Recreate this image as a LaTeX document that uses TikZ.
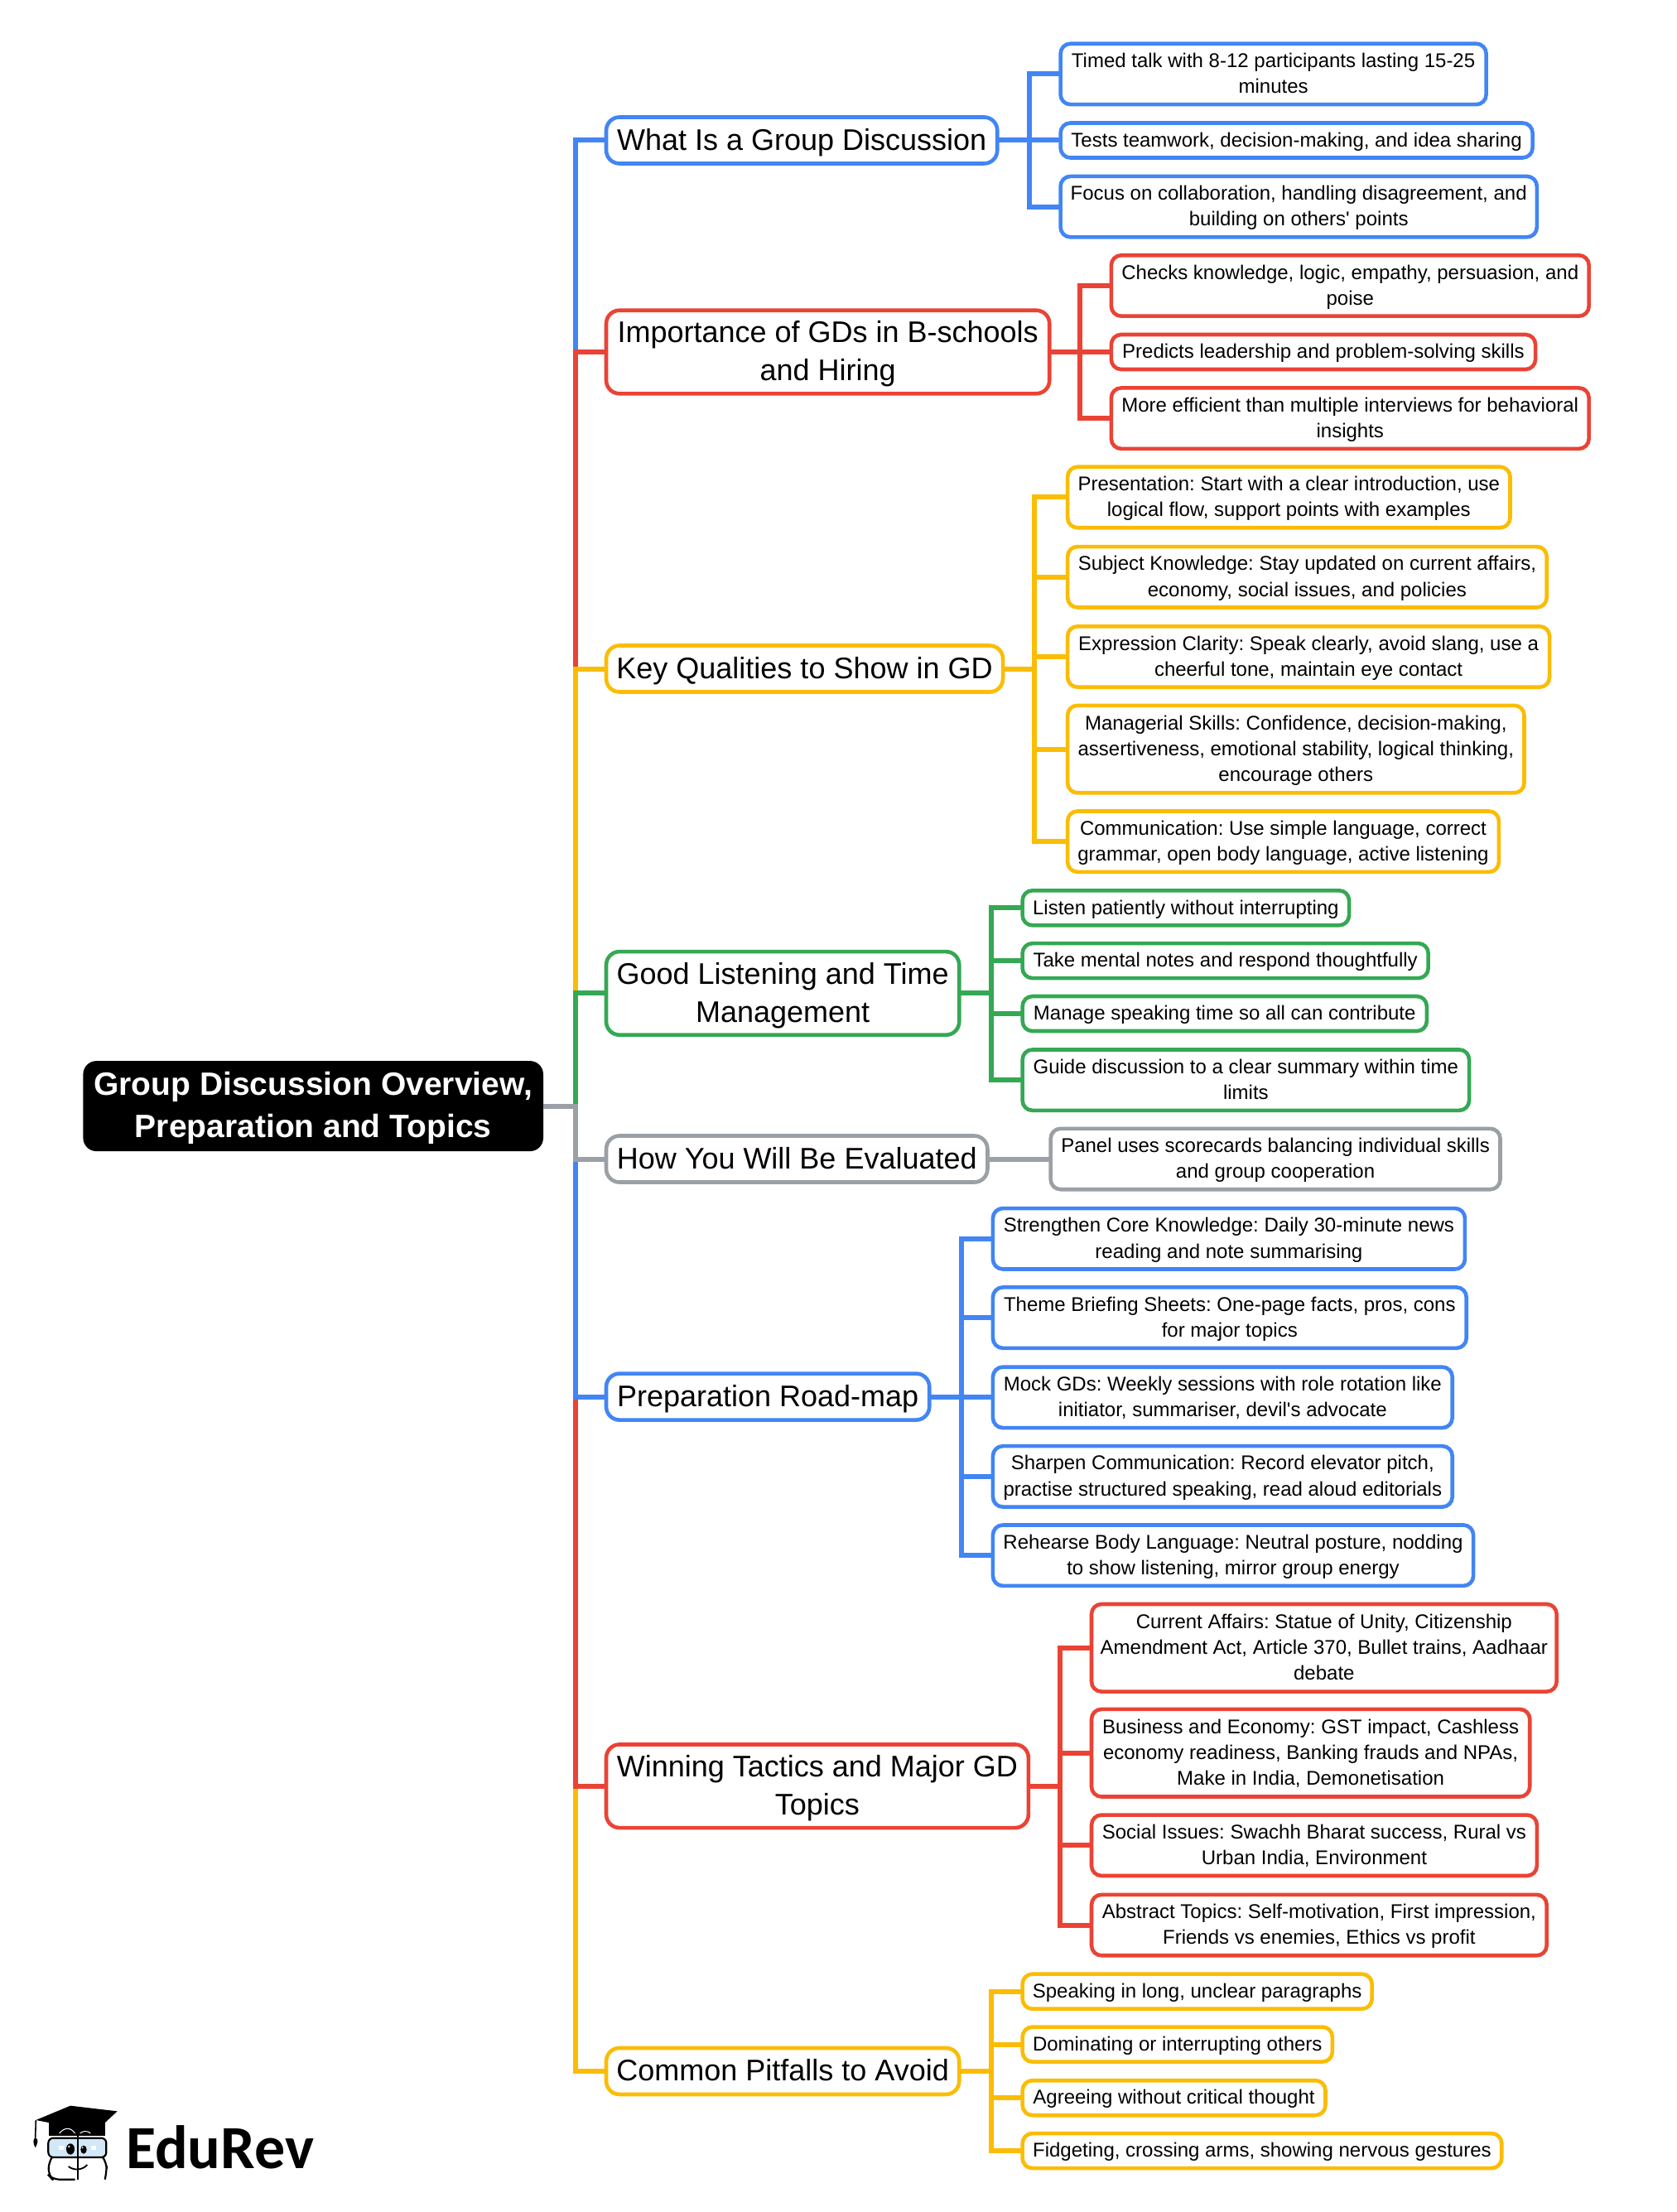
\documentclass[tikz,border=0pt]{standalone}
\usepackage{fontspec}
\setmainfont{Liberation Sans}[Ligatures=TeXOff]
\newfontfamily\logofont{Carlito}
\usetikzlibrary{calc,positioning}
\frenchspacing

\definecolor{gdblue}{HTML}{4285F4}
\definecolor{gdred}{HTML}{EA4335}
\definecolor{gdyellow}{HTML}{FBBC04}
\definecolor{gdgreen}{HTML}{34A853}
\definecolor{gdgray}{HTML}{9AA0A6}
\definecolor{gdglass}{HTML}{D3E8F6}

\tikzset{
  rootbox/.style={fill=black,text=white,rounded corners=8pt,inner sep=0,outer sep=0,align=flush center,
    font=\fontsize{19.5}{25.6}\selectfont\bfseries,minimum height=54.5pt,anchor=west,
    execute at begin node={\rule{0pt}{17.7pt}},execute at end node={\rule[-5pt]{0pt}{5pt}}},
  mainbox/.style={draw=#1,fill=white,line width=2.3pt,rounded corners=8pt,inner sep=0,outer sep=0,
    align=flush center,anchor=west,font=\fontsize{18}{23}\selectfont,
    execute at begin node={\rule{0pt}{16.3pt}},execute at end node={\rule[-4.5pt]{0pt}{4.5pt}}},
  subbox/.style={draw=#1,fill=white,line width=2.3pt,rounded corners=6pt,inner sep=0,outer sep=0,
    align=flush center,anchor=west,font=\fontsize{12}{15.6}\selectfont,
    execute at begin node={\rule{0pt}{10.7pt}},execute at end node={\rule[-3pt]{0pt}{3pt}}},
  mainone/.style={minimum height=28pt},
  maintwo/.style={minimum height=50.3pt},
  oneline/.style={minimum height=21pt},
  twoline/.style={minimum height=36.7pt},
  threeline/.style={minimum height=52.8pt},
  link/.style={draw=#1,line width=3pt}
}

\begin{document}
\begin{tikzpicture}[x=0.5005pt,y=-0.50083pt]
  \useasboundingbox (0,0) rectangle (2022,2666.6);

  \node[rootbox,text width=277.8pt] at (100.3,1333.4) (root)
  {Group Discussion Overview,\\Preparation and Topics};

  % main topics
  \node[mainbox=gdblue,mainone,text width=236.1pt] at (731.3,169.2) (whatis)
  {What Is a Group Discussion};
  \node[mainbox=gdred,maintwo,text width=267.6pt] at (731.3,424.3) (importance)
  {Importance of GDs in B-schools\\and Hiring};
  \node[mainbox=gdyellow,mainone,text width=239.5pt] at (731.3,806.2) (qualities)
  {Key Qualities to Show in GD};
  \node[mainbox=gdgreen,maintwo,text width=213.1pt] at (731.3,1197.4) (listening)
  {Good Listening and Time\\Management};
  \node[mainbox=gdgray,mainone,text width=230.2pt] at (731.3,1397.2) (evaluated)
  {How You Will Be Evaluated};
  \node[mainbox=gdblue,mainone,text width=195.1pt] at (731.3,1683.8) (roadmap)
  {Preparation Road-map};
  \node[mainbox=gdred,maintwo,text width=254.9pt] at (731.3,2153.2) (tactics)
  {Winning Tactics and Major GD\\Topics};
  \node[mainbox=gdyellow,mainone,text width=213.1pt] at (731.3,2496.8) (pitfalls)
  {Common Pitfalls to Avoid};

  % What Is a Group Discussion
  \node[subbox=gdblue,twoline,text width=257pt] at (1279.3,89.3) (timed)
  {Timed talk with 8-12 participants lasting 15-25\\minutes};
  \node[subbox=gdblue,oneline,text width=285pt] at (1279.3,169.2) (tests)
  {Tests teamwork, decision-making, and idea sharing};
  \node[subbox=gdblue,twoline,text width=287.6pt] at (1279.3,249.2) (focus)
  {Focus on collaboration, handling disagreement, and\\building on others' points};

  % Importance of GDs
  \node[subbox=gdred,twoline,text width=288.4pt] at (1340.5,344.4) (checks)
  {Checks knowledge, logic, empathy, persuasion, and\\poise};
  \node[subbox=gdred,oneline,text width=256.1pt] at (1340.5,424.3) (predicts)
  {Predicts leadership and problem-solving skills};
  \node[subbox=gdred,twoline,text width=288.4pt] at (1340.5,504.3) (efficient)
  {More efficient than multiple interviews for behavioral\\insights};

  % Key Qualities
  \node[subbox=gdyellow,twoline,text width=267.2pt] at (1287.8,599.5) (presentation)
  {Presentation: Start with a clear introduction, use\\logical flow, support points with examples};
  \node[subbox=gdyellow,twoline,text width=289.3pt] at (1287.8,695.6) (subject)
  {Subject Knowledge: Stay updated on current affairs,\\economy, social issues, and policies};
  \node[subbox=gdyellow,twoline,text width=291pt] at (1287.8,791.7) (clarity)
  {Expression Clarity: Speak clearly, avoid slang, use a\\cheerful tone, maintain eye contact};
  \node[subbox=gdyellow,threeline,text width=275.7pt] at (1287.8,903.1) (managerial)
  {Managerial Skills: Confidence, decision-making,\\assertiveness, emotional stability, logical thinking,\\encourage others};
  \node[subbox=gdyellow,twoline,text width=260.4pt] at (1287.8,1014.5) (communication)
  {Communication: Use simple language, correct\\grammar, open body language, active listening};

  % Good Listening
  \node[subbox=gdgreen,oneline,text width=197.2pt] at (1233.4,1094.5) (patient)
  {Listen patiently without interrupting};
  \node[subbox=gdgreen,oneline,text width=245pt] at (1233.4,1158.2) (notes)
  {Take mental notes and respond thoughtfully};
  \node[subbox=gdgreen,oneline,text width=244.1pt] at (1233.4,1222) (speaking)
  {Manage speaking time so all can contribute};
  \node[subbox=gdgreen,twoline,text width=269.7pt] at (1233.4,1302) (guide)
  {Guide discussion to a clear summary within time\\limits};

  % Evaluated
  \node[subbox=gdgray,twoline,text width=271.4pt] at (1267.4,1397.2) (panel)
  {Panel uses scorecards balancing individual skills\\and group cooperation};

  % Road-map
  \node[subbox=gdblue,twoline,text width=285pt] at (1197.7,1493.3) (core)
  {Strengthen Core Knowledge: Daily 30-minute news\\reading and note summarising};
  \node[subbox=gdblue,twoline,text width=285.9pt] at (1197.7,1588.5) (theme)
  {Theme Briefing Sheets: One-page facts, pros, cons\\for major topics};
  \node[subbox=gdblue,twoline,text width=277.4pt] at (1197.7,1684.6) (mock)
  {Mock GDs: Weekly sessions with role rotation like\\initiator, summariser, devil's advocate};
  \node[subbox=gdblue,twoline,text width=277.4pt] at (1197.7,1779.9) (sharpen)
  {Sharpen Communication: Record elevator pitch,\\practise structured speaking, read aloud editorials};
  \node[subbox=gdblue,twoline,text width=290.1pt] at (1197.7,1875.1) (rehearse)
  {Rehearse Body Language: Neutral posture, nodding\\to show listening, mirror group energy};

  % Winning Tactics
  \node[subbox=gdred,threeline,text width=280.8pt] at (1316.7,1986.5) (affairs)
  {Current Affairs: Statue of Unity, Citizenship\\Amendment Act, Article 370, Bullet trains, Aadhaar\\debate};
  \node[subbox=gdred,threeline,text width=264.6pt] at (1316.7,2113.2) (business)
  {Business and Economy: GST impact, Cashless\\economy readiness, Banking frauds and NPAs,\\Make in India, Demonetisation};
  \node[subbox=gdred,twoline,text width=268.9pt] at (1316.7,2224.6) (social)
  {Social Issues: Swachh Bharat success, Rural vs\\Urban India, Environment};
  \node[subbox=gdred,twoline,text width=274.8pt] at (1316.7,2320.7) (abstract)
  {Abstract Topics: Self-motivation, First impression,\\Friends vs enemies, Ethics vs profit};

  % Pitfalls
  \node[subbox=gdyellow,oneline,text width=211pt] at (1233.4,2400.7) (long)
  {Speaking in long, unclear paragraphs};
  \node[subbox=gdyellow,oneline,text width=187.1pt] at (1233.4,2464.5) (dominating)
  {Dominating or interrupting others};
  \node[subbox=gdyellow,oneline,text width=182.9pt] at (1233.4,2529) (agreeing)
  {Agreeing without critical thought};
  \node[subbox=gdyellow,oneline,text width=289.3pt] at (1233.4,2592.8) (fidgeting)
  {Fidgeting, crossing arms, showing nervous gestures};

  % trunk, outer branches first so the inner ones lie on top
  \coordinate (trunk) at (693.9,1333.4);
  \foreach \topic/\col in {whatis/gdblue,importance/gdred,qualities/gdyellow,listening/gdgreen,
    pitfalls/gdyellow,tactics/gdred,roadmap/gdblue,evaluated/gdgray}
  \draw[link=\col] (root.east) -- (trunk) |- (\topic.west);

  \coordinate (whatfork) at (1241.4,169.2);
  \coordinate (importfork) at (1302.6,424.3);
  \coordinate (qualfork) at (1248.2,806.2);
  \coordinate (listenfork) at (1195.5,1197.4);
  \coordinate (roadfork) at (1159.7,1683.8);
  \coordinate (tacticfork) at (1278.8,2153.2);
  \coordinate (pitfork) at (1195.5,2496.8);

  \foreach \leaf in {timed,tests,focus}
  \draw[link=gdblue] (whatis.east) -- (whatfork) |- (\leaf.west);
  \foreach \leaf in {checks,predicts,efficient}
  \draw[link=gdred] (importance.east) -- (importfork) |- (\leaf.west);
  \foreach \leaf in {presentation,subject,clarity,managerial,communication}
  \draw[link=gdyellow] (qualities.east) -- (qualfork) |- (\leaf.west);
  \foreach \leaf in {patient,notes,speaking,guide}
  \draw[link=gdgreen] (listening.east) -- (listenfork) |- (\leaf.west);
  \draw[link=gdgray] (evaluated.east) -- (panel.west);
  \foreach \leaf in {core,theme,mock,sharpen,rehearse}
  \draw[link=gdblue] (roadmap.east) -- (roadfork) |- (\leaf.west);
  \foreach \leaf in {affairs,business,social,abstract}
  \draw[link=gdred] (tactics.east) -- (tacticfork) |- (\leaf.west);
  \foreach \leaf in {long,dominating,agreeing,fidgeting}
  \draw[link=gdyellow] (pitfalls.east) -- (pitfork) |- (\leaf.west);

  % logo
  \begin{scope}[shift={(0,2475.9)},x=0.16667pt,y=-0.16667pt]
    \fill[black] (178,250) -- (380,250) -- (380,298) -- (178,298) -- cycle;
    \draw[white,line width=0.5pt] (215,288) .. controls (235,265) and (255,265) .. (272,288);
    \draw[white,line width=0.5pt] (290,288) .. controls (300,278) and (318,278) .. (328,288);
    \fill[black] (130,240) -- (255,188) -- (425,208) -- (345,282) -- cycle;
    \draw[black,line width=0.8pt] (130,240) -- (128,305);
    \fill[black] (128,303) .. controls (118,310) and (120,325) .. (128,340)
      .. controls (136,325) and (142,310) .. (128,303);
    \draw[black,line width=1.1pt,fill=gdglass,rounded corners=3pt] (175,305) rectangle (385,375);
    \draw[black,line width=1.1pt,rounded corners=4pt] (272,455) -- (190,455) -- (176,440) -- (176,392) -- (186,378);
    \draw[black,line width=1.1pt,rounded corners=4pt] (375,378) -- (386,392) -- (386,430) -- (380,455);
    \draw[black,line width=1.3pt] (282,298) -- (282,456);
    \fill[black] (255,345) ellipse [x radius=15,y radius=20];
    \fill[black] (303,347) ellipse [x radius=11,y radius=15];
    \fill[white] (250,336) circle [radius=4];
    \fill[white] (299,340) circle [radius=3];
    \fill[white] (214,333) rectangle (232,349);
    \fill[white] (331,333) rectangle (348,349);
    \draw[black,line width=0.9pt] (248,408) .. controls (270,425) and (300,420) .. (316,402);
    \node[anchor=base west,inner sep=0,font=\fontsize{37}{40}\logofont\bfseries] at (455,415) (brand) {EduRev};
  \end{scope}
\end{tikzpicture}
\end{document}
